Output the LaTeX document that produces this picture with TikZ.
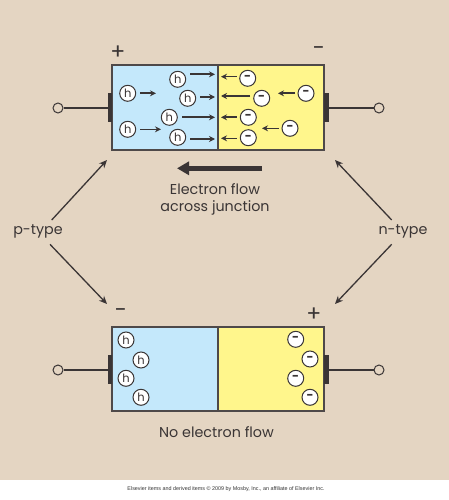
\documentclass[tikz,border=0pt]{standalone}
\usepackage{fontspec}
\setmainfont{Poppins}
\newfontfamily\footfont{Liberation Sans}
\usetikzlibrary{arrows.meta}
\definecolor{bg}{HTML}{E4D5C2}
\definecolor{pblue}{HTML}{C4E8FB}
\definecolor{nyel}{HTML}{FFF68C}
\definecolor{ink}{HTML}{3A3535}
\tikzset{
  hole/.style={circle,draw=ink,line width=1pt,fill=white,minimum size=16pt,inner sep=0pt,font=\fontsize{11.5}{11.5}\selectfont,text=ink},
  elec/.style={circle,draw=ink,line width=1pt,fill=white,minimum size=16pt,inner sep=0pt,font=\fontsize{12}{12}\selectfont\bfseries,text=ink},
  sarr/.style={draw=ink,line width=1.6pt,-{Stealth[length=6pt,width=6pt]}},
  darr/.style={draw=ink,line width=1.3pt,-{Stealth[length=8pt,width=7pt]}},
  barr/.style={draw=ink,line width=4.5pt,-{Triangle[length=12pt,width=13pt]}},
  lbl/.style={font=\fontsize{14.3}{17}\selectfont,text=ink,align=center,inner sep=0pt},
  sgn/.style={font=\fontsize{22}{22}\selectfont,text=ink,inner sep=0pt},
  term/.style={circle,draw=ink,line width=1pt,fill=bg,minimum size=10pt,inner sep=0pt},
  wire/.style={draw=ink,line width=1.1pt},
  tbar/.style={fill=ink,draw=none},
  region/.style={draw=ink!90,line width=1.2pt}
}
\begin{document}
\begin{tikzpicture}[x=1pt,y=-1pt]
\useasboundingbox (0,0) rectangle (449,500);
\fill[white] (0,0) rectangle (449,500);
\fill[bg] (0,0) rectangle (449,480);
% ---------- top diode ----------
\fill[pblue] (112,65) rectangle (218,150);
\fill[nyel] (218,65) rectangle (324,150);
\draw[region] (112,65) rectangle (324,150);
\draw[region] (218,65) -- (218,150);
\node[term] (tl) at (58,108) {};
\node[term] (tr) at (379,108) {};
\fill[tbar] (107.5,93) rectangle (112,122);
\fill[tbar] (324,93) rectangle (328.5,122);
\coordinate (tlb) at (107.5,108);
\coordinate (trb) at (328.5,108);
\draw[wire] (tl) -- (tlb);
\draw[wire] (tr) -- (trb);
\node[sgn] (tplus) at (118,53) {+};
\node[sgn] (tminus) at (319,51) {-};
% holes
\node[hole] (h1) at (177.7,79.3) {h};
\node[hole] (h2) at (127.7,93.3) {h};
\node[hole] (h3) at (187.7,98.3) {h};
\node[hole] (h4) at (169.3,117.3) {h};
\node[hole] (h5) at (127.7,129.3) {h};
\node[hole] (h6) at (177.7,137.3) {h};
\coordinate (a1s) at (190,74.3); \coordinate (a1e) at (215,74.3);
\coordinate (a2s) at (140,93.3); \coordinate (a2e) at (156,93.3);
\coordinate (a3s) at (200,97) ; \coordinate (a3e) at (215,97);
\coordinate (a4s) at (182,117.3); \coordinate (a4e) at (215,117.3);
\coordinate (a5s) at (140,129.3); \coordinate (a5e) at (161,129.3);
\coordinate (a6s) at (190,139); \coordinate (a6e) at (215,139);
\draw[sarr] (a1s) -- (a1e);
\draw[sarr] (a2s) -- (a2e);
\draw[sarr] (a3s) -- (a3e);
\draw[sarr] (a4s) -- (a4e);
\draw[sarr] (a5s) -- (a5e);
\draw[sarr] (a6s) -- (a6e);
% electrons
\node[elec] (e1) at (247.7,78.3) {-};
\node[elec] (e2) at (261.7,98.3) {-};
\node[elec] (e3) at (306,93.3) {-};
\node[elec] (e4) at (248.3,117.3) {-};
\node[elec] (e5) at (290,128.3) {-};
\node[elec] (e6) at (248.3,137.7) {-};
\coordinate (b1s) at (236.5,76.7); \coordinate (b1e) at (221,76.7);
\coordinate (b2s) at (250,96); \coordinate (b2e) at (221,96);
\coordinate (b3s) at (295,93.3); \coordinate (b3e) at (278,93.3);
\coordinate (b4s) at (236.5,117.3); \coordinate (b4e) at (221,117.3);
\coordinate (b5s) at (279,128.3); \coordinate (b5e) at (262,128.3);
\coordinate (b6s) at (236.5,138.3); \coordinate (b6e) at (221,138.3);
\draw[sarr] (b1s) -- (b1e);
\draw[sarr] (b2s) -- (b2e);
\draw[sarr] (b3s) -- (b3e);
\draw[sarr] (b4s) -- (b4e);
\draw[sarr] (b5s) -- (b5e);
\draw[sarr] (b6s) -- (b6e);
% big arrow and label
\coordinate (bas) at (262,168.3);
\coordinate (bae) at (177,168.3);
\draw[barr] (bas) -- (bae);
\node[lbl] (flow) at (215,199.5) {Electron flow\\across junction};
% ---------- side labels ----------
\node[lbl] (ptype) at (38,231.5) {p-type};
\node[lbl] (ntype) at (403,231.5) {n-type};
\coordinate (pu) at (107,160); \coordinate (pd) at (107,304);
\coordinate (nu) at (335,160); \coordinate (nd) at (335,304);
\draw[darr] (51.7,220) -- (pu);
\draw[darr] (50,244.3) -- (pd);
\draw[darr] (391.7,220) -- (nu);
\draw[darr] (391.7,244.3) -- (nd);
% ---------- bottom diode ----------
\fill[pblue] (112,327) rectangle (218,411);
\fill[nyel] (218,327) rectangle (324,411);
\draw[region] (112,327) rectangle (324,411);
\draw[region] (218,327) -- (218,411);
\node[term] (bl) at (58,370) {};
\node[term] (br) at (379,370) {};
\fill[tbar] (107.5,355) rectangle (112,384);
\fill[tbar] (324,355) rectangle (328.5,384);
\coordinate (blb) at (107.5,370);
\coordinate (brb) at (328.5,370);
\draw[wire] (bl) -- (blb);
\draw[wire] (br) -- (brb);
\node[sgn] (bminus) at (121,313) {-};
\node[sgn] (bplus) at (314,315) {+};
\node[hole] (k1) at (126,340) {h};
\node[hole] (k2) at (141,360) {h};
\node[hole] (k3) at (126,378.3) {h};
\node[hole] (k4) at (141,397.3) {h};
\node[elec] (f1) at (295.7,339.3) {-};
\node[elec] (f2) at (310,359) {-};
\node[elec] (f3) at (295.7,378.3) {-};
\node[elec] (f4) at (310,397.3) {-};
\node[lbl] (noflow) at (216.5,432) {No electron flow};
% footer
\node[font=\footfont\fontsize{5.4}{6}\selectfont,text=black!80,inner sep=0pt] (foot) at (226,489) {Elsevier items and derived items © 2009 by Mosby, Inc., an affiliate of Elsevier Inc.};
\end{tikzpicture}
\end{document}
